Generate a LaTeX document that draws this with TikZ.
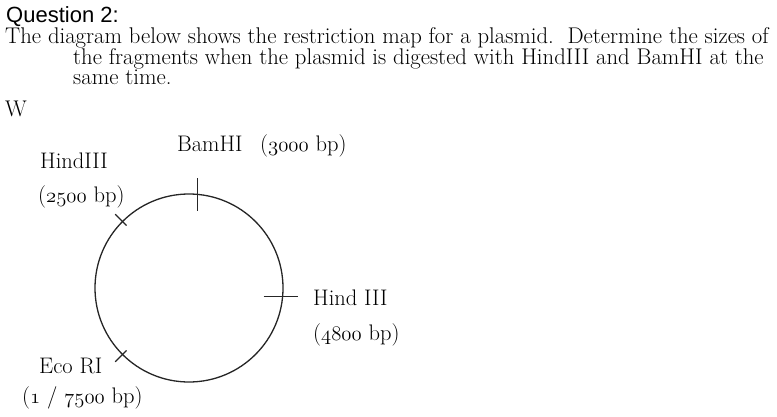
\documentclass[tikz,border=0pt]{standalone}
\usepackage{fontspec}
\newfontfamily\qfont{Liberation Sans}
\usepackage{tikz}
\usetikzlibrary{calc}

% old style figures for the sizes
\newcommand{\bp}[1]{{\usefont{OML}{cmm}{m}{it}#1}}

\tikzset{
    txt/.style={anchor=base west, inner sep=0pt, font=\fontsize{22.7}{19.5}\selectfont},
    lab/.style={anchor=base west, inner sep=0pt, font=\fontsize{22.5}{25}\selectfont},
    tick/.style={line width=1.3pt, black!85}
}

\begin{document}
\begin{tikzpicture}[x=1pt, y=-1pt]
    \useasboundingbox (0, 0) rectangle (777, 417);

    % question (base of the paragraph is its last line)
    \node[anchor=base west, inner sep=0pt, font=\qfont\fontsize{22}{26}\selectfont] (q) at (6, 23) {Question 2:};
    \node[txt, align=left] (para) at (5, 84.5) {The diagram below shows the restriction map for a plasmid.\ \ Determine the sizes of\\
        \hspace*{68pt}the fragments when the plasmid is digested with HindIII and BamHI at the\\
        \hspace*{68pt}same time.};
    \node[txt] (w) at (5, 117) {W};

    % plasmid
    \node[circle, draw, line width=1.3pt, black!85, minimum size=188pt, inner sep=0pt, outer sep=0pt] (plasmid) at (189, 288) {};

    % cut sites
    \draw[tick] (plasmid.85) ++(0, -16) -- ++(0, 33);
    \draw[tick] (plasmid.-5) ++(-19, 0) -- ++(34, 0);
    \draw[tick] ($(plasmid.center)!1.11!(plasmid.135)$) -- ($(plasmid.center)!0.94!(plasmid.135)$);
    \draw[tick] ($(plasmid.center)!1.11!(plasmid.225)$) -- ($(plasmid.center)!0.94!(plasmid.225)$);

    % labels
    \node[lab] (bam) at (177, 152) {BamHI};
    \node[lab] (bamsize) at (260, 152) {(\bp{3000} bp)};
    \node[lab] (hindA) at (40, 169) {HindIII};
    \node[lab] (hindAsize) at (38, 203) {(\bp{2500} bp)};
    \node[lab] (hindB) at (313, 305) {Hind III};
    \node[lab] (hindBsize) at (313, 340) {(\bp{4800} bp)};
    \node[lab] (eco) at (39, 373) {Eco RI};
    \node[lab] (ecosize) at (22, 403) {(\bp{1} / \bp{7500} bp)};
\end{tikzpicture}
\end{document}
